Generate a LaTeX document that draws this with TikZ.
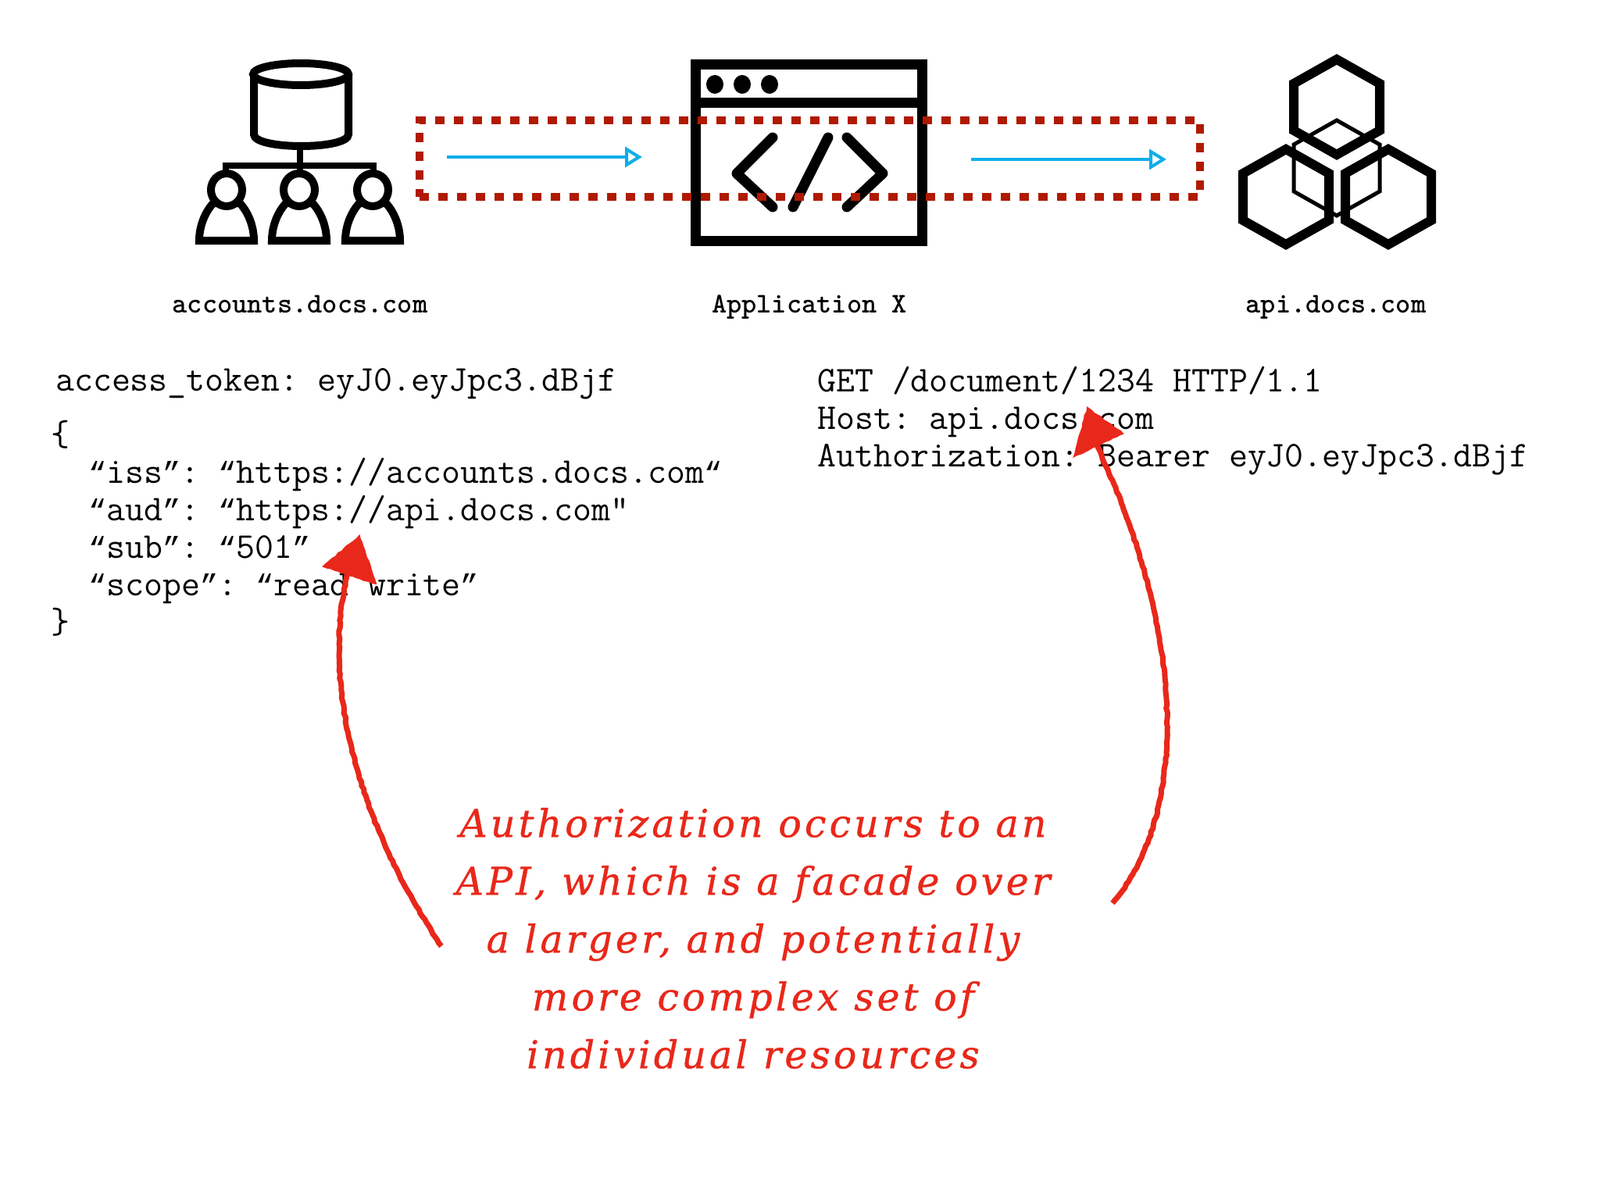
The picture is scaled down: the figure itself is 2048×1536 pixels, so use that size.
\documentclass[tikz,border=0pt]{standalone}
\usepackage{fontspec}
\newfontfamily\handfont[LetterSpace=8.5,ItalicFeatures={FakeBold=0.8}]{DejaVu Serif}
\newfontfamily\quotefont{Liberation Mono}
\newcommand{\openq}{{\quotefont\fontsize{38.7}{48}\selectfont “}}
\newcommand{\closeq}{{\quotefont\fontsize{38.7}{48}\selectfont ”}}
\usepackage{tikz}
\usetikzlibrary{arrows.meta,decorations.pathmorphing}
\definecolor{dashred}{HTML}{B01A00}
\definecolor{flowblue}{HTML}{0DAEEA}
\definecolor{noted}{HTML}{E8281A}
\tikzset{
  icon/.style      = {draw=black, line width=10pt, line join=miter},
  person/.style    = {icon, fill=white},
  codemark/.style  = {draw=black, line width=13pt, line cap=round, line join=round},
  hexa/.pic        = {\draw [pic actions, line join=miter]
                        (0,-61) -- (55,-30) -- (55,30) -- (0,61)
                        -- (-55,30) -- (-55,-30) -- cycle;},
  hostname/.style  = {font=\fontsize{36.6}{40}\selectfont\ttfamily\bfseries\addfontfeatures{FakeBold=0.8},
                      anchor=base},
  code/.style      = {font=\fontsize{46.5}{48}\selectfont\ttfamily\frenchspacing, anchor=base west,
                      align=left, inner sep=0pt},
  flow/.style      = {draw=flowblue, line width=4pt,
                      -{Triangle[open, length=22pt, width=26pt, fill=white]}},
  scribble/.style  = {draw=noted, decorate,
                      decoration={random steps, segment length=5pt, amplitude=0.8pt}},
  shaft/.style     = {scribble, line width=7pt},
  barb/.style      = {scribble, fill=noted, line width=2pt},
  note/.style      = {font=\fontsize{49}{74}\selectfont\handfont\itshape, text=noted,
                      align=center, inner sep=0pt}
}
\begin{document}
\begin{tikzpicture}[x=1pt, y=-1pt]
\useasboundingbox [fill=white] (0,0) rectangle (2048,1536);

% accounts icon
\draw [icon] (325,95) -- (325,172) .. controls (325,192) and (446,192) .. (446,172) -- (446,95);
\draw [icon] (385,95) ellipse [x radius=61pt, y radius=14pt];
\draw [icon, line width=8pt] (384,190) -- (384,230);
\draw [icon, line width=8pt] (289,230) -- (289,212) -- (478,212) -- (478,230);
\foreach \px in {290,383,477} {
  \draw [person] (\px-35,308) .. controls (\px-35,290) and (\px-28,272) .. (\px-17,260)
     -- (\px+17,260) .. controls (\px+28,272) and (\px+35,290) .. (\px+35,308) -- cycle;
  \draw [person] (\px,243) ellipse [x radius=20pt, y radius=21pt];
}

% application icon
\draw [icon, line width=13pt] (890.5,82.5) rectangle (1180.5,308.5);
\draw [icon, line width=13pt] (890,132) -- (1181,132);
\foreach \dx in {915,950,985}
  \fill (\dx,108) ellipse [x radius=11pt, y radius=12pt];
\draw [codemark] (989,176) -- (943,222) -- (989,265);
\draw [codemark] (1060,176) -- (1015,265);
\draw [codemark] (1084,176) -- (1130,222) -- (1084,265);

% api icon
\pic [icon, line width=12pt] at (1711,137) {hexa};
\pic [icon, line width=12pt] at (1646,252) {hexa};
\pic [icon, line width=12pt] at (1777,252) {hexa};
\pic [icon, line width=5pt] at (1711,215) {hexa};

% token path
\node (tokenpath) [draw=dashred, line width=10pt, dash pattern=on 12pt off 12pt,
   minimum width=999pt, minimum height=98pt, inner sep=0pt] at (1036.5,203) {};
\coordinate (flowa) at (572,201);
\coordinate (flowb) at (822,201);
\coordinate (flowc) at (1243,204);
\coordinate (flowd) at (1493,204);
\draw [flow] (flowa) -- (flowb);
\draw [flow] (flowc) -- (flowd);

\node (accounts) [hostname] at (384,400) {accounts.docs.com};
\node (app)      [hostname] at (1036,400) {Application X};
\node (api)      [hostname] at (1710,400) {api.docs.com};

\node (token) [code] at (71,500) {access\_token: eyJ0.eyJpc3.dBjf};
\node (claims) [code] at (65,810) {\{\\
~~\openq iss\closeq: \openq https://accounts.docs.com\openq\\
~~\openq aud\closeq: \openq https://api.docs.com"\\
~~\openq sub\closeq: \openq 501\closeq\\
~~\openq scope\closeq: \openq read write\closeq\\
\}};
\node (request) [code] at (1046,597) {GET /document/1234 HTTP/1.1\\
Host: api.docs.com\\
Authorization: Bearer eyJ0.eyJpc3.dBjf};

\node (remark) [note] at (964,1201) {Authorization occurs to an\\
API, which is a facade over\\
a larger, and potentially\\
more complex set of\\
individual resources};

% red arrows
\coordinate (lefttail) at (565,1211);
\coordinate (lefthead) at (448,722);
\coordinate (righttail) at (1424,1156);
\coordinate (righthead) at (1400,562);
\draw [shaft] (lefttail) .. controls (450,1040) and (410,860) .. (lefthead);
\draw [barb] (460,686) -- (414,725) -- (481,747) -- cycle;
\draw [shaft] (righttail) .. controls (1530,1030) and (1510,790) .. (righthead);
\draw [barb] (1392,522) -- (1375,584) -- (1437,555) -- cycle;
\end{tikzpicture}
\end{document}
